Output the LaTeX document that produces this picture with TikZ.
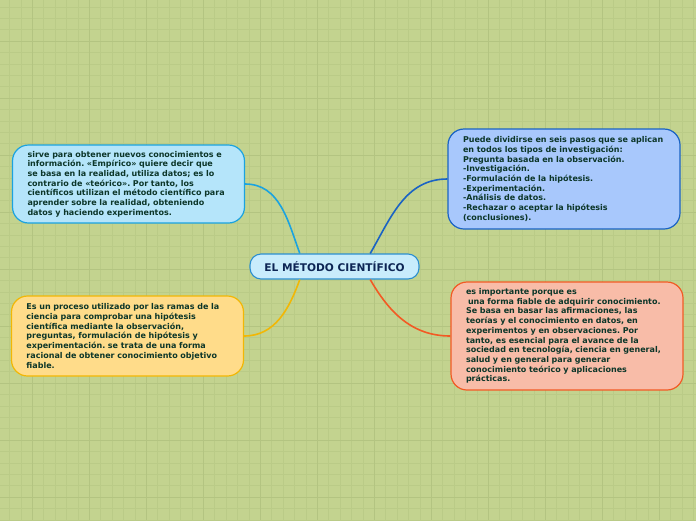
\documentclass[tikz,border=0pt]{standalone}
\usepackage{fontspec}
\setmainfont{DejaVu Sans}
\usetikzlibrary{calc}
\definecolor{bgc}{HTML}{C3D38F}
\definecolor{minorc}{HTML}{BACB87}
\definecolor{majorc}{HTML}{B3C481}
\definecolor{txt}{HTML}{0C3629}
\definecolor{ctxt}{HTML}{0D2554}
\definecolor{cF}{HTML}{C8ECFC}\definecolor{cD}{HTML}{2C8FD0}
\definecolor{tlF}{HTML}{B5E5FA}\definecolor{tlD}{HTML}{1BA3DF}
\definecolor{trF}{HTML}{A8C8FC}\definecolor{trD}{HTML}{1A63C4}
\definecolor{blF}{HTML}{FFDC8A}\definecolor{blD}{HTML}{F2B705}
\definecolor{brF}{HTML}{F8BCA8}\definecolor{brD}{HTML}{F25A24}
\tikzset{
  topic/.style={rectangle, rounded corners=16pt, line width=1.2pt, text width=202pt,
    inner xsep=15pt, inner ysep=4pt, align=left, text=txt,
    font=\frenchspacing\fontsize{8}{9.7}\selectfont\bfseries},
  central/.style={rectangle, rounded corners=11pt, line width=1.1pt, fill=cF, draw=cD,
    minimum width=169pt, minimum height=25pt, text=ctxt, font=\fontsize{10.6}{12}\selectfont\bfseries},
  link/.style={line width=1.6pt}
}
\begin{document}
\begin{tikzpicture}[x=1pt,y=-1pt]
\useasboundingbox (0,0) rectangle (696,520);
\fill[bgc] (0,0) rectangle (696,520);
\foreach \i in {-1,...,61} {\draw[minorc, line width=0.6pt] ({9.5+11.4*\i},0) -- ++(0,520);}
\foreach \i in {-1,...,46} {\draw[minorc, line width=0.6pt] (0,{6.8+11.4*\i}) -- ++(696,0);}
\foreach \i in {-1,...,12} {\draw[majorc, line width=0.9pt] ({32.3+57*\i},0) -- ++(0,520);}
\foreach \i in {-1,...,9} {\draw[majorc, line width=0.9pt] (0,{41+57*\i}) -- ++(696,0);}

\node[central] (c) at (334.5,266.5) {EL MÉTODO CIENTÍFICO};

\node[topic, fill=tlF, draw=tlD, minimum height=78pt] (tl) at (128.5,184) {sirve para obtener nuevos conocimientos e\\información. «Empírico» quiere decir que\\se basa en la realidad, utiliza datos; es lo\\contrario de «teórico». Por tanto, los\\científicos utilizan el método científico para\\aprender sobre la realidad, obteniendo\\datos y haciendo experimentos.};

\node[topic, fill=trF, draw=trD, minimum height=100pt] (tr) at (564,179) {Puede dividirse en seis pasos que se aplican\\en todos los tipos de investigación:\\Pregunta basada en la observación.\\-Investigación.\\-Formulación de la hipótesis.\\-Experimentación.\\-Análisis de datos.\\-Rechazar o aceptar la hipótesis\\(conclusiones).};

\node[topic, fill=blF, draw=blD, minimum height=80pt] (bl) at (127.5,336) {Es un proceso utilizado por las ramas de la\\ciencia para comprobar una hipótesis\\científica mediante la observación,\\preguntas, formulación de hipótesis y\\experimentación. se trata de una forma\\racional de obtener conocimiento objetivo\\fiable.};

\node[topic, fill=brF, draw=brD, minimum height=108pt] (br) at (567,336) {es importante porque es\\\hspace*{2pt}una forma fiable de adquirir conocimiento.\\Se basa en basar las afirmaciones, las\\teorías y el conocimiento en datos, en\\experimentos y en observaciones. Por\\tanto, es esencial para el avance de la\\sociedad en tecnología, ciencia en general,\\salud y en general para generar\\conocimiento teórico y aplicaciones\\prácticas.};

\coordinate (cnw) at ($(c.north west)!0.296!(c.north east)$);
\coordinate (cne) at ($(c.north west)!0.71!(c.north east)$);
\coordinate (csw) at ($(c.south west)!0.296!(c.south east)$);
\coordinate (cse) at ($(c.south west)!0.71!(c.south east)$);

\draw[link, tlD] (cnw) to[out=110,in=0] (tl.east);
\draw[link, trD] (cne) to[out=60,in=180] (tr.west);
\draw[link, blD] (csw) to[out=-110,in=0] (bl.east);
\draw[link, brD] (cse) to[out=-60,in=180] (br.west);
\end{tikzpicture}
\end{document}
